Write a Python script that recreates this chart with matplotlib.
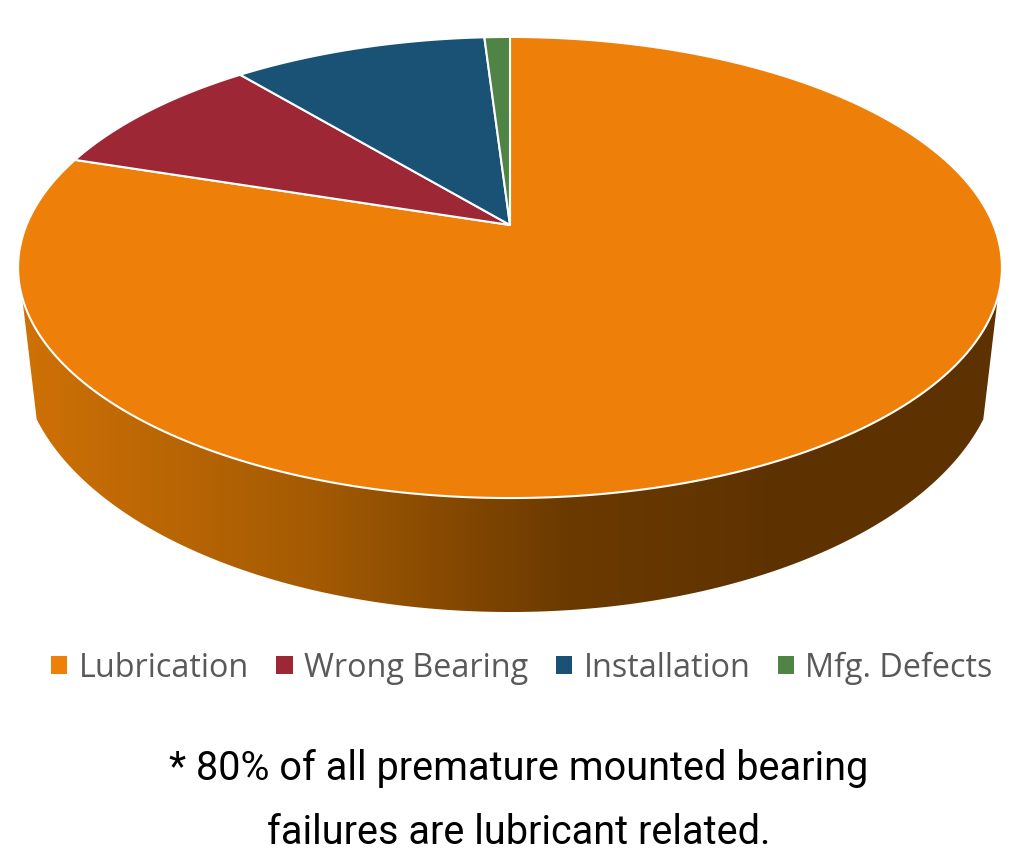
import numpy as np
import matplotlib
matplotlib.use('Agg')
import matplotlib.pyplot as plt
from matplotlib.colors import LinearSegmentedColormap
from matplotlib.patches import Patch, Polygon

# Valores do gráfico
categorias = ['Lubrication', 'Wrong Bearing', 'Installation', 'Mfg. Defects']
valores = [80, 9, 10, 1]
cores = ['#EE7F08', '#9E2736', '#1A5276', '#4F8445']

# Geometria da pizza em perspectiva (pixels)
cx, cy = 510, 225
a, b, k = 483.5, 222.7, 0.1844


def projeta(ang):
    # angulo em graus, anti-horario a partir do eixo x
    X = np.cos(np.radians(ang))
    Y = np.sin(np.radians(ang))
    return cx + a * X / (1 + k * Y), cy - b * Y / (1 + k * Y)


fig = plt.figure(figsize=(10.24, 8.65), dpi=100)
ax = fig.add_axes([0, 0, 1, 1])
ax.set_xlim(0, 1024)
ax.set_ylim(865, 0)
ax.axis('off')

# Lateral com gradiente
ang_frente = np.linspace(197.8, 342.2, 200)
xt, yt = projeta(ang_frente)
t = np.radians(np.linspace(345, 195, 200))
xb = 510 + 490 * np.cos(t)
yb = 352 - 260 * np.sin(t)
lateral = Polygon(np.column_stack([np.r_[xt, xb], np.r_[yt, yb]]), closed=True,
                  facecolor='none', edgecolor='none')
ax.add_patch(lateral)
grad = LinearSegmentedColormap.from_list('lateral', [(0, '#CF7106'), (0.38, '#A55B03'),
                                                     (0.72, '#6B3A00'), (1, '#5E3200')])
img = ax.imshow(np.linspace(0, 1, 512).reshape(1, -1), cmap=grad, aspect='auto',
                extent=[20, 780, 620, 290], zorder=1)
img.set_clip_path(lateral)
ax.fill_between([780, 1002], 290, 620, color='#5E3200', zorder=1, clip_path=lateral, lw=0)
ax.set_xlim(0, 1024)
ax.set_ylim(865, 0)

# Fatias do topo, sentido horário a partir das 12h
inicio = 90.0
for valor, cor in zip(valores, cores):
    fim = inicio - valor * 3.6
    xs, ys = projeta(np.linspace(inicio, fim, 300))
    ax.fill(np.r_[cx, xs], np.r_[cy, ys], facecolor=cor, edgecolor='white', lw=1.5,
            joinstyle='round', zorder=3)
    inicio = fim

# Legenda
handles = [Patch(facecolor=c, edgecolor='none') for c in cores]
ax.legend(handles, categorias, loc='center', bbox_to_anchor=(522, 668),
          bbox_transform=ax.transData, ncol=4, frameon=False,
          labelcolor='#595959', handlelength=0.5, handleheight=0.5, handletextpad=0.36,
          columnspacing=0.84, prop={'family': 'Open Sans', 'size': 23.3})

# Nota
ax.text(519, 769, '* 80% of all premature mounted bearing', ha='center', va='center',
        fontsize=28.5, family='Roboto', color='black')
ax.text(519, 832, 'failures are lubricant related.', ha='center', va='center',
        fontsize=28.5, family='Roboto', color='black')

fig.savefig('out.png', dpi=100)
